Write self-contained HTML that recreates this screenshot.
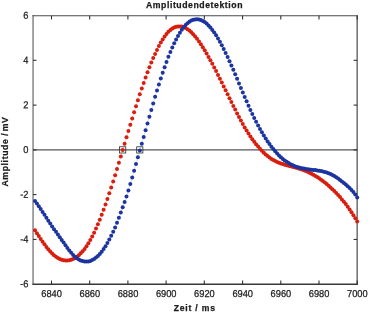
<!DOCTYPE html>
<html lang="de"><head><meta charset="utf-8"><title>Amplitudendetektion</title>
<style>html,body{margin:0;padding:0;background:#fff}body{width:370px;height:315px;overflow:hidden}svg{display:block}text{font-family:"Liberation Sans",Arial,Helvetica,sans-serif;fill:#1a1a1a}.tk{font-size:10px;stroke:#1a1a1a;stroke-width:0.25px}.lb{font-size:8.6px;font-weight:bold;letter-spacing:0.55px;stroke:#1a1a1a;stroke-width:0.25px}.tt{font-size:8.7px;letter-spacing:0.56px}.yl{font-size:8.7px;letter-spacing:0.6px}.xl{letter-spacing:0.8px}</style></head><body>
<svg width="370" height="315" viewBox="0 0 370 315">
<rect width="370" height="315" fill="#fff"/>
<g fill="none" stroke="#484848" stroke-width="1.2">
<line x1="33.05" y1="15.15" x2="33.05" y2="284.85" stroke="#666"/>
<line x1="357.15" y1="15.15" x2="357.15" y2="284.85" stroke="#4a4a4a"/>
<line x1="32.45" y1="15.75" x2="357.75" y2="15.75" stroke="#4a4a4a"/>
<line x1="32.45" y1="284.25" x2="357.75" y2="284.25" stroke="#383838" stroke-width="1.3"/>
<line x1="33.0" y1="149.86" x2="357.1" y2="149.86" stroke="#555"/>
</g>
<g stroke="#2a2a2a" stroke-width="1.05">
<line x1="51.5" y1="284.2" x2="51.5" y2="280.6"/>
<line x1="51.5" y1="15.8" x2="51.5" y2="19.4"/>
<line x1="89.7" y1="284.2" x2="89.7" y2="280.6"/>
<line x1="89.7" y1="15.8" x2="89.7" y2="19.4"/>
<line x1="127.9" y1="284.2" x2="127.9" y2="280.6"/>
<line x1="127.9" y1="15.8" x2="127.9" y2="19.4"/>
<line x1="166.1" y1="284.2" x2="166.1" y2="280.6"/>
<line x1="166.1" y1="15.8" x2="166.1" y2="19.4"/>
<line x1="204.3" y1="284.2" x2="204.3" y2="280.6"/>
<line x1="204.3" y1="15.8" x2="204.3" y2="19.4"/>
<line x1="242.6" y1="284.2" x2="242.6" y2="280.6"/>
<line x1="242.6" y1="15.8" x2="242.6" y2="19.4"/>
<line x1="280.8" y1="284.2" x2="280.8" y2="280.6"/>
<line x1="280.8" y1="15.8" x2="280.8" y2="19.4"/>
<line x1="319.0" y1="284.2" x2="319.0" y2="280.6"/>
<line x1="319.0" y1="15.8" x2="319.0" y2="19.4"/>
<line x1="357.2" y1="284.2" x2="357.2" y2="280.6"/>
<line x1="357.2" y1="15.8" x2="357.2" y2="19.4"/>
<line x1="33.0" y1="239.4" x2="36.5" y2="239.4"/>
<line x1="357.1" y1="239.4" x2="353.6" y2="239.4"/>
<line x1="33.0" y1="194.6" x2="36.5" y2="194.6"/>
<line x1="357.1" y1="194.6" x2="353.6" y2="194.6"/>
<line x1="33.0" y1="149.9" x2="36.5" y2="149.9"/>
<line x1="357.1" y1="149.9" x2="353.6" y2="149.9"/>
<line x1="33.0" y1="105.1" x2="36.5" y2="105.1"/>
<line x1="357.1" y1="105.1" x2="353.6" y2="105.1"/>
<line x1="33.0" y1="60.3" x2="36.5" y2="60.3"/>
<line x1="357.1" y1="60.3" x2="353.6" y2="60.3"/>
</g>
<g class="tk">
<text transform="translate(51.6,297.05) rotate(0.05) scale(0.93,1)" text-anchor="middle">6840</text>
<text transform="translate(89.8,297.05) rotate(0.05) scale(0.93,1)" text-anchor="middle">6860</text>
<text transform="translate(128.0,297.05) rotate(0.05) scale(0.93,1)" text-anchor="middle">6880</text>
<text transform="translate(166.2,297.05) rotate(0.05) scale(0.93,1)" text-anchor="middle">6900</text>
<text transform="translate(204.4,297.05) rotate(0.05) scale(0.93,1)" text-anchor="middle">6920</text>
<text transform="translate(242.7,297.05) rotate(0.05) scale(0.93,1)" text-anchor="middle">6940</text>
<text transform="translate(280.9,297.05) rotate(0.05) scale(0.93,1)" text-anchor="middle">6960</text>
<text transform="translate(319.1,297.05) rotate(0.05) scale(0.93,1)" text-anchor="middle">6980</text>
<text transform="translate(357.3,297.05) rotate(0.05) scale(0.93,1)" text-anchor="middle">7000</text>
<text transform="translate(28.4,287.2) rotate(0.05) scale(0.93,1)" text-anchor="end">-6</text>
<text transform="translate(28.4,242.5) rotate(0.05) scale(0.93,1)" text-anchor="end">-4</text>
<text transform="translate(28.4,197.7) rotate(0.05) scale(0.93,1)" text-anchor="end">-2</text>
<text transform="translate(28.4,153.0) rotate(0.05) scale(0.93,1)" text-anchor="end">0</text>
<text transform="translate(28.4,108.2) rotate(0.05) scale(0.93,1)" text-anchor="end">2</text>
<text transform="translate(28.4,63.4) rotate(0.05) scale(0.93,1)" text-anchor="end">4</text>
<text transform="translate(28.4,18.7) rotate(0.05) scale(0.93,1)" text-anchor="end">6</text>
</g>
<text class="lb tt" x="194.5" y="8.3" text-anchor="middle">Amplitudendetektion</text>
<text class="lb xl" x="194.7" y="311.3" text-anchor="middle">Zeit / ms</text>
<g transform="translate(8.2,186.5) rotate(-90)"><text class="lb yl" x="0" y="0">Amplitude</text><text class="lb yl" x="50.8" y="0">/</text><text class="lb yl" x="55.2" y="0">mV</text></g>
<polyline fill="none" stroke="#d81e0e" stroke-opacity="0.25" stroke-width="0.7" points="35.0,230.3 36.9,233.2 38.8,236.1 40.7,238.9 42.6,241.7 44.5,244.3 46.4,246.9 48.3,249.3 50.2,251.4 52.1,253.5 54.0,255.2 56.0,256.7 57.9,258.0 59.8,259.0 61.7,259.8 63.6,260.3 65.5,260.6 67.4,260.6 69.3,260.3 71.2,259.8 73.1,259.1 75.0,258.0 76.9,256.7 78.8,255.2 80.7,253.3 82.6,251.2 84.6,248.9 86.5,246.2 88.4,243.3 90.3,240.0 92.2,236.5 94.1,232.7 96.0,228.6 97.9,224.3 99.8,219.7 101.7,214.8 103.6,209.8 105.5,204.4 107.4,198.9 109.3,193.3 111.2,187.4 113.2,181.4 115.1,175.3 117.0,169.1 118.9,162.8 120.8,156.4 122.7,150.0 124.6,143.7 126.5,137.3 128.4,131.0 130.3,124.8 132.2,118.5 134.1,112.3 136.0,106.2 137.9,100.2 139.8,94.3 141.8,88.5 143.7,82.9 145.6,77.5 147.5,72.3 149.4,67.3 151.3,62.6 153.2,58.1 155.1,53.9 157.0,49.9 158.9,46.1 160.8,42.6 162.7,39.4 164.6,36.5 166.5,34.0 168.4,31.8 170.4,30.1 172.3,28.6 174.2,27.6 176.1,26.8 178.0,26.4 179.9,26.4 181.8,26.6 183.7,27.2 185.6,28.0 187.5,29.2 189.4,30.6 191.3,32.3 193.2,34.2 195.1,36.4 197.0,38.8 199.0,41.4 200.9,44.2 202.8,47.2 204.7,50.3 206.6,53.5 208.5,56.9 210.4,60.3 212.3,63.8 214.2,67.5 216.1,71.1 218.0,74.9 219.9,78.7 221.8,82.5 223.7,86.4 225.6,90.3 227.6,94.2 229.5,98.2 231.4,102.0 233.3,105.9 235.2,109.6 237.1,113.4 239.0,117.0 240.9,120.6 242.8,124.0 244.7,127.4 246.6,130.6 248.5,133.6 250.4,136.5 252.3,139.3 254.2,141.8 256.1,144.3 258.1,146.6 260.0,148.8 261.9,150.8 263.8,152.8 265.7,154.6 267.6,156.1 269.5,157.6 271.4,158.9 273.3,160.0 275.2,161.0 277.1,161.9 279.0,162.7 280.9,163.5 282.8,164.1 284.7,164.7 286.7,165.3 288.6,165.8 290.5,166.3 292.4,166.8 294.3,167.3 296.2,167.8 298.1,168.3 300.0,168.9 301.9,169.5 303.8,170.2 305.7,171.0 307.6,171.8 309.5,172.7 311.4,173.7 313.3,174.8 315.3,175.9 317.2,177.1 319.1,178.3 321.0,179.7 322.9,181.1 324.8,182.6 326.7,184.1 328.6,185.8 330.5,187.5 332.4,189.2 334.3,191.1 336.2,193.0 338.1,195.0 340.0,197.1 341.9,199.4 343.9,201.7 345.8,204.1 347.7,206.7 349.6,209.4 351.5,212.2 353.4,215.2 355.3,218.3 357.2,221.5"/>
<g fill="#d81e0e">
<circle cx="35.0" cy="230.3" r="2"/><circle cx="36.9" cy="233.2" r="2"/><circle cx="38.8" cy="236.1" r="2"/><circle cx="40.7" cy="238.9" r="2"/><circle cx="42.6" cy="241.7" r="2"/><circle cx="44.5" cy="244.3" r="2"/><circle cx="46.4" cy="246.9" r="2"/><circle cx="48.3" cy="249.3" r="2"/><circle cx="50.2" cy="251.4" r="2"/><circle cx="52.1" cy="253.5" r="2"/><circle cx="54.0" cy="255.2" r="2"/><circle cx="56.0" cy="256.7" r="2"/><circle cx="57.9" cy="258.0" r="2"/><circle cx="59.8" cy="259.0" r="2"/><circle cx="61.7" cy="259.8" r="2"/><circle cx="63.6" cy="260.3" r="2"/><circle cx="65.5" cy="260.6" r="2"/><circle cx="67.4" cy="260.6" r="2"/><circle cx="69.3" cy="260.3" r="2"/><circle cx="71.2" cy="259.8" r="2"/><circle cx="73.1" cy="259.1" r="2"/><circle cx="75.0" cy="258.0" r="2"/><circle cx="76.9" cy="256.7" r="2"/><circle cx="78.8" cy="255.2" r="2"/><circle cx="80.7" cy="253.3" r="2"/><circle cx="82.6" cy="251.2" r="2"/><circle cx="84.6" cy="248.9" r="2"/><circle cx="86.5" cy="246.2" r="2"/><circle cx="88.4" cy="243.3" r="2"/><circle cx="90.3" cy="240.0" r="2"/><circle cx="92.2" cy="236.5" r="2"/><circle cx="94.1" cy="232.7" r="2"/><circle cx="96.0" cy="228.6" r="2"/><circle cx="97.9" cy="224.3" r="2"/><circle cx="99.8" cy="219.7" r="2"/><circle cx="101.7" cy="214.8" r="2"/><circle cx="103.6" cy="209.8" r="2"/><circle cx="105.5" cy="204.4" r="2"/><circle cx="107.4" cy="198.9" r="2"/><circle cx="109.3" cy="193.3" r="2"/><circle cx="111.2" cy="187.4" r="2"/><circle cx="113.2" cy="181.4" r="2"/><circle cx="115.1" cy="175.3" r="2"/><circle cx="117.0" cy="169.1" r="2"/><circle cx="118.9" cy="162.8" r="2"/><circle cx="120.8" cy="156.4" r="2"/><circle cx="122.7" cy="150.0" r="2"/><circle cx="124.6" cy="143.7" r="2"/><circle cx="126.5" cy="137.3" r="2"/><circle cx="128.4" cy="131.0" r="2"/><circle cx="130.3" cy="124.8" r="2"/><circle cx="132.2" cy="118.5" r="2"/><circle cx="134.1" cy="112.3" r="2"/><circle cx="136.0" cy="106.2" r="2"/><circle cx="137.9" cy="100.2" r="2"/><circle cx="139.8" cy="94.3" r="2"/><circle cx="141.8" cy="88.5" r="2"/><circle cx="143.7" cy="82.9" r="2"/><circle cx="145.6" cy="77.5" r="2"/><circle cx="147.5" cy="72.3" r="2"/><circle cx="149.4" cy="67.3" r="2"/><circle cx="151.3" cy="62.6" r="2"/><circle cx="153.2" cy="58.1" r="2"/><circle cx="155.1" cy="53.9" r="2"/><circle cx="157.0" cy="49.9" r="2"/><circle cx="158.9" cy="46.1" r="2"/><circle cx="160.8" cy="42.6" r="2"/><circle cx="162.7" cy="39.4" r="2"/><circle cx="164.6" cy="36.5" r="2"/><circle cx="166.5" cy="34.0" r="2"/><circle cx="168.4" cy="31.8" r="2"/><circle cx="170.4" cy="30.1" r="2"/><circle cx="172.3" cy="28.6" r="2"/><circle cx="174.2" cy="27.6" r="2"/><circle cx="176.1" cy="26.8" r="2"/><circle cx="178.0" cy="26.4" r="2"/><circle cx="179.9" cy="26.4" r="2"/><circle cx="181.8" cy="26.6" r="2"/><circle cx="183.7" cy="27.2" r="2"/><circle cx="185.6" cy="28.0" r="2"/><circle cx="187.5" cy="29.2" r="2"/><circle cx="189.4" cy="30.6" r="2"/><circle cx="191.3" cy="32.3" r="2"/><circle cx="193.2" cy="34.2" r="2"/><circle cx="195.1" cy="36.4" r="2"/><circle cx="197.0" cy="38.8" r="2"/><circle cx="199.0" cy="41.4" r="2"/><circle cx="200.9" cy="44.2" r="2"/><circle cx="202.8" cy="47.2" r="2"/><circle cx="204.7" cy="50.3" r="2"/><circle cx="206.6" cy="53.5" r="2"/><circle cx="208.5" cy="56.9" r="2"/><circle cx="210.4" cy="60.3" r="2"/><circle cx="212.3" cy="63.8" r="2"/><circle cx="214.2" cy="67.5" r="2"/><circle cx="216.1" cy="71.1" r="2"/><circle cx="218.0" cy="74.9" r="2"/><circle cx="219.9" cy="78.7" r="2"/><circle cx="221.8" cy="82.5" r="2"/><circle cx="223.7" cy="86.4" r="2"/><circle cx="225.6" cy="90.3" r="2"/><circle cx="227.6" cy="94.2" r="2"/><circle cx="229.5" cy="98.2" r="2"/><circle cx="231.4" cy="102.0" r="2"/><circle cx="233.3" cy="105.9" r="2"/><circle cx="235.2" cy="109.6" r="2"/><circle cx="237.1" cy="113.4" r="2"/><circle cx="239.0" cy="117.0" r="2"/><circle cx="240.9" cy="120.6" r="2"/><circle cx="242.8" cy="124.0" r="2"/><circle cx="244.7" cy="127.4" r="2"/><circle cx="246.6" cy="130.6" r="2"/><circle cx="248.5" cy="133.6" r="2"/><circle cx="250.4" cy="136.5" r="2"/><circle cx="252.3" cy="139.3" r="2"/><circle cx="254.2" cy="141.8" r="2"/><circle cx="256.1" cy="144.3" r="2"/><circle cx="258.1" cy="146.6" r="2"/><circle cx="260.0" cy="148.8" r="2"/><circle cx="261.9" cy="150.8" r="2"/><circle cx="263.8" cy="152.8" r="2"/><circle cx="265.7" cy="154.6" r="2"/><circle cx="267.6" cy="156.1" r="2"/><circle cx="269.5" cy="157.6" r="2"/><circle cx="271.4" cy="158.9" r="2"/><circle cx="273.3" cy="160.0" r="2"/><circle cx="275.2" cy="161.0" r="2"/><circle cx="277.1" cy="161.9" r="2"/><circle cx="279.0" cy="162.7" r="2"/><circle cx="280.9" cy="163.5" r="2"/><circle cx="282.8" cy="164.1" r="2"/><circle cx="284.7" cy="164.7" r="2"/><circle cx="286.7" cy="165.3" r="2"/><circle cx="288.6" cy="165.8" r="2"/><circle cx="290.5" cy="166.3" r="2"/><circle cx="292.4" cy="166.8" r="2"/><circle cx="294.3" cy="167.3" r="2"/><circle cx="296.2" cy="167.8" r="2"/><circle cx="298.1" cy="168.3" r="2"/><circle cx="300.0" cy="168.9" r="2"/><circle cx="301.9" cy="169.5" r="2"/><circle cx="303.8" cy="170.2" r="2"/><circle cx="305.7" cy="171.0" r="2"/><circle cx="307.6" cy="171.8" r="2"/><circle cx="309.5" cy="172.7" r="2"/><circle cx="311.4" cy="173.7" r="2"/><circle cx="313.3" cy="174.8" r="2"/><circle cx="315.3" cy="175.9" r="2"/><circle cx="317.2" cy="177.1" r="2"/><circle cx="319.1" cy="178.3" r="2"/><circle cx="321.0" cy="179.7" r="2"/><circle cx="322.9" cy="181.1" r="2"/><circle cx="324.8" cy="182.6" r="2"/><circle cx="326.7" cy="184.1" r="2"/><circle cx="328.6" cy="185.8" r="2"/><circle cx="330.5" cy="187.5" r="2"/><circle cx="332.4" cy="189.2" r="2"/><circle cx="334.3" cy="191.1" r="2"/><circle cx="336.2" cy="193.0" r="2"/><circle cx="338.1" cy="195.0" r="2"/><circle cx="340.0" cy="197.1" r="2"/><circle cx="341.9" cy="199.4" r="2"/><circle cx="343.9" cy="201.7" r="2"/><circle cx="345.8" cy="204.1" r="2"/><circle cx="347.7" cy="206.7" r="2"/><circle cx="349.6" cy="209.4" r="2"/><circle cx="351.5" cy="212.2" r="2"/><circle cx="353.4" cy="215.2" r="2"/><circle cx="355.3" cy="218.3" r="2"/><circle cx="357.2" cy="221.5" r="2"/>
</g>
<polyline fill="none" stroke="#1c34a0" stroke-opacity="0.25" stroke-width="0.7" points="35.0,201.0 36.9,203.5 38.8,206.2 40.7,209.0 42.6,211.9 44.5,214.8 46.4,217.8 48.3,220.7 50.2,223.6 52.1,226.4 54.0,229.2 56.0,231.8 57.9,234.5 59.8,237.2 61.7,239.9 63.6,242.6 65.5,245.2 67.4,247.9 69.3,250.4 71.2,252.7 73.1,254.9 75.0,256.7 76.9,258.3 78.8,259.5 80.7,260.4 82.6,261.1 84.6,261.5 86.5,261.6 88.4,261.4 90.3,260.9 92.2,260.1 94.1,259.0 96.0,257.6 97.9,255.9 99.8,254.0 101.7,251.7 103.6,249.1 105.5,246.3 107.4,243.1 109.3,239.6 111.2,235.8 113.2,231.8 115.1,227.4 117.0,222.7 118.9,217.7 120.8,212.6 122.7,207.3 124.6,201.9 126.5,196.4 128.4,190.4 130.3,184.0 132.2,177.4 134.1,170.8 136.0,164.1 137.9,157.3 139.8,150.5 141.8,143.8 143.7,137.0 145.6,130.2 147.5,123.4 149.4,116.7 151.3,110.1 153.2,103.4 155.1,96.8 157.0,90.5 158.9,84.4 160.8,78.5 162.7,72.8 164.6,67.2 166.5,61.9 168.4,56.8 170.4,52.0 172.3,47.5 174.2,43.3 176.1,39.5 178.0,35.9 179.9,32.7 181.8,29.8 183.7,27.3 185.6,25.1 187.5,23.2 189.4,21.8 191.3,20.6 193.2,19.8 195.1,19.4 197.0,19.3 199.0,19.5 200.9,20.0 202.8,20.9 204.7,22.1 206.6,23.6 208.5,25.4 210.4,27.5 212.3,29.9 214.2,32.5 216.1,35.3 218.0,38.4 219.9,41.8 221.8,45.3 223.7,49.0 225.6,52.9 227.6,57.0 229.5,61.2 231.4,65.5 233.3,69.8 235.2,74.3 237.1,78.8 239.0,83.4 240.9,87.9 242.8,92.4 244.7,96.9 246.6,101.3 248.5,105.7 250.4,109.9 252.3,114.0 254.2,118.0 256.1,121.8 258.1,125.5 260.0,129.0 261.9,132.3 263.8,135.5 265.7,138.5 267.6,141.4 269.5,144.1 271.4,146.7 273.3,149.1 275.2,151.3 277.1,153.4 279.0,155.4 280.9,157.2 282.8,158.9 284.7,160.4 286.7,161.8 288.6,163.0 290.5,164.2 292.4,165.1 294.3,166.0 296.2,166.7 298.1,167.3 300.0,167.8 301.9,168.3 303.8,168.6 305.7,168.9 307.6,169.2 309.5,169.4 311.4,169.7 313.3,169.9 315.3,170.1 317.2,170.4 319.1,170.7 321.0,171.1 322.9,171.5 324.8,172.0 326.7,172.6 328.6,173.3 330.5,174.1 332.4,175.0 334.3,176.1 336.2,177.3 338.1,178.5 340.0,179.9 341.9,181.4 343.9,183.0 345.8,184.6 347.7,186.3 349.6,188.1 351.5,189.9 353.4,191.9 355.3,194.4 357.2,197.6"/>
<g fill="#1c34a0">
<circle cx="35.0" cy="201.0" r="2"/><circle cx="36.9" cy="203.5" r="2"/><circle cx="38.8" cy="206.2" r="2"/><circle cx="40.7" cy="209.0" r="2"/><circle cx="42.6" cy="211.9" r="2"/><circle cx="44.5" cy="214.8" r="2"/><circle cx="46.4" cy="217.8" r="2"/><circle cx="48.3" cy="220.7" r="2"/><circle cx="50.2" cy="223.6" r="2"/><circle cx="52.1" cy="226.4" r="2"/><circle cx="54.0" cy="229.2" r="2"/><circle cx="56.0" cy="231.8" r="2"/><circle cx="57.9" cy="234.5" r="2"/><circle cx="59.8" cy="237.2" r="2"/><circle cx="61.7" cy="239.9" r="2"/><circle cx="63.6" cy="242.6" r="2"/><circle cx="65.5" cy="245.2" r="2"/><circle cx="67.4" cy="247.9" r="2"/><circle cx="69.3" cy="250.4" r="2"/><circle cx="71.2" cy="252.7" r="2"/><circle cx="73.1" cy="254.9" r="2"/><circle cx="75.0" cy="256.7" r="2"/><circle cx="76.9" cy="258.3" r="2"/><circle cx="78.8" cy="259.5" r="2"/><circle cx="80.7" cy="260.4" r="2"/><circle cx="82.6" cy="261.1" r="2"/><circle cx="84.6" cy="261.5" r="2"/><circle cx="86.5" cy="261.6" r="2"/><circle cx="88.4" cy="261.4" r="2"/><circle cx="90.3" cy="260.9" r="2"/><circle cx="92.2" cy="260.1" r="2"/><circle cx="94.1" cy="259.0" r="2"/><circle cx="96.0" cy="257.6" r="2"/><circle cx="97.9" cy="255.9" r="2"/><circle cx="99.8" cy="254.0" r="2"/><circle cx="101.7" cy="251.7" r="2"/><circle cx="103.6" cy="249.1" r="2"/><circle cx="105.5" cy="246.3" r="2"/><circle cx="107.4" cy="243.1" r="2"/><circle cx="109.3" cy="239.6" r="2"/><circle cx="111.2" cy="235.8" r="2"/><circle cx="113.2" cy="231.8" r="2"/><circle cx="115.1" cy="227.4" r="2"/><circle cx="117.0" cy="222.7" r="2"/><circle cx="118.9" cy="217.7" r="2"/><circle cx="120.8" cy="212.6" r="2"/><circle cx="122.7" cy="207.3" r="2"/><circle cx="124.6" cy="201.9" r="2"/><circle cx="126.5" cy="196.4" r="2"/><circle cx="128.4" cy="190.4" r="2"/><circle cx="130.3" cy="184.0" r="2"/><circle cx="132.2" cy="177.4" r="2"/><circle cx="134.1" cy="170.8" r="2"/><circle cx="136.0" cy="164.1" r="2"/><circle cx="137.9" cy="157.3" r="2"/><circle cx="139.8" cy="150.5" r="2"/><circle cx="141.8" cy="143.8" r="2"/><circle cx="143.7" cy="137.0" r="2"/><circle cx="145.6" cy="130.2" r="2"/><circle cx="147.5" cy="123.4" r="2"/><circle cx="149.4" cy="116.7" r="2"/><circle cx="151.3" cy="110.1" r="2"/><circle cx="153.2" cy="103.4" r="2"/><circle cx="155.1" cy="96.8" r="2"/><circle cx="157.0" cy="90.5" r="2"/><circle cx="158.9" cy="84.4" r="2"/><circle cx="160.8" cy="78.5" r="2"/><circle cx="162.7" cy="72.8" r="2"/><circle cx="164.6" cy="67.2" r="2"/><circle cx="166.5" cy="61.9" r="2"/><circle cx="168.4" cy="56.8" r="2"/><circle cx="170.4" cy="52.0" r="2"/><circle cx="172.3" cy="47.5" r="2"/><circle cx="174.2" cy="43.3" r="2"/><circle cx="176.1" cy="39.5" r="2"/><circle cx="178.0" cy="35.9" r="2"/><circle cx="179.9" cy="32.7" r="2"/><circle cx="181.8" cy="29.8" r="2"/><circle cx="183.7" cy="27.3" r="2"/><circle cx="185.6" cy="25.1" r="2"/><circle cx="187.5" cy="23.2" r="2"/><circle cx="189.4" cy="21.8" r="2"/><circle cx="191.3" cy="20.6" r="2"/><circle cx="193.2" cy="19.8" r="2"/><circle cx="195.1" cy="19.4" r="2"/><circle cx="197.0" cy="19.3" r="2"/><circle cx="199.0" cy="19.5" r="2"/><circle cx="200.9" cy="20.0" r="2"/><circle cx="202.8" cy="20.9" r="2"/><circle cx="204.7" cy="22.1" r="2"/><circle cx="206.6" cy="23.6" r="2"/><circle cx="208.5" cy="25.4" r="2"/><circle cx="210.4" cy="27.5" r="2"/><circle cx="212.3" cy="29.9" r="2"/><circle cx="214.2" cy="32.5" r="2"/><circle cx="216.1" cy="35.3" r="2"/><circle cx="218.0" cy="38.4" r="2"/><circle cx="219.9" cy="41.8" r="2"/><circle cx="221.8" cy="45.3" r="2"/><circle cx="223.7" cy="49.0" r="2"/><circle cx="225.6" cy="52.9" r="2"/><circle cx="227.6" cy="57.0" r="2"/><circle cx="229.5" cy="61.2" r="2"/><circle cx="231.4" cy="65.5" r="2"/><circle cx="233.3" cy="69.8" r="2"/><circle cx="235.2" cy="74.3" r="2"/><circle cx="237.1" cy="78.8" r="2"/><circle cx="239.0" cy="83.4" r="2"/><circle cx="240.9" cy="87.9" r="2"/><circle cx="242.8" cy="92.4" r="2"/><circle cx="244.7" cy="96.9" r="2"/><circle cx="246.6" cy="101.3" r="2"/><circle cx="248.5" cy="105.7" r="2"/><circle cx="250.4" cy="109.9" r="2"/><circle cx="252.3" cy="114.0" r="2"/><circle cx="254.2" cy="118.0" r="2"/><circle cx="256.1" cy="121.8" r="2"/><circle cx="258.1" cy="125.5" r="2"/><circle cx="260.0" cy="129.0" r="2"/><circle cx="261.9" cy="132.3" r="2"/><circle cx="263.8" cy="135.5" r="2"/><circle cx="265.7" cy="138.5" r="2"/><circle cx="267.6" cy="141.4" r="2"/><circle cx="269.5" cy="144.1" r="2"/><circle cx="271.4" cy="146.7" r="2"/><circle cx="273.3" cy="149.1" r="2"/><circle cx="275.2" cy="151.3" r="2"/><circle cx="277.1" cy="153.4" r="2"/><circle cx="279.0" cy="155.4" r="2"/><circle cx="280.9" cy="157.2" r="2"/><circle cx="282.8" cy="158.9" r="2"/><circle cx="284.7" cy="160.4" r="2"/><circle cx="286.7" cy="161.8" r="2"/><circle cx="288.6" cy="163.0" r="2"/><circle cx="290.5" cy="164.2" r="2"/><circle cx="292.4" cy="165.1" r="2"/><circle cx="294.3" cy="166.0" r="2"/><circle cx="296.2" cy="166.7" r="2"/><circle cx="298.1" cy="167.3" r="2"/><circle cx="300.0" cy="167.8" r="2"/><circle cx="301.9" cy="168.3" r="2"/><circle cx="303.8" cy="168.6" r="2"/><circle cx="305.7" cy="168.9" r="2"/><circle cx="307.6" cy="169.2" r="2"/><circle cx="309.5" cy="169.4" r="2"/><circle cx="311.4" cy="169.7" r="2"/><circle cx="313.3" cy="169.9" r="2"/><circle cx="315.3" cy="170.1" r="2"/><circle cx="317.2" cy="170.4" r="2"/><circle cx="319.1" cy="170.7" r="2"/><circle cx="321.0" cy="171.1" r="2"/><circle cx="322.9" cy="171.5" r="2"/><circle cx="324.8" cy="172.0" r="2"/><circle cx="326.7" cy="172.6" r="2"/><circle cx="328.6" cy="173.3" r="2"/><circle cx="330.5" cy="174.1" r="2"/><circle cx="332.4" cy="175.0" r="2"/><circle cx="334.3" cy="176.1" r="2"/><circle cx="336.2" cy="177.3" r="2"/><circle cx="338.1" cy="178.5" r="2"/><circle cx="340.0" cy="179.9" r="2"/><circle cx="341.9" cy="181.4" r="2"/><circle cx="343.9" cy="183.0" r="2"/><circle cx="345.8" cy="184.6" r="2"/><circle cx="347.7" cy="186.3" r="2"/><circle cx="349.6" cy="188.1" r="2"/><circle cx="351.5" cy="189.9" r="2"/><circle cx="353.4" cy="191.9" r="2"/><circle cx="355.3" cy="194.4" r="2"/><circle cx="357.2" cy="197.6" r="2"/>
</g>
<rect x="119.6" y="146.8" width="6.2" height="6.2" fill="none" stroke="#222" stroke-width="0.75"/>
<rect x="136.7" y="146.8" width="6.2" height="6.2" fill="none" stroke="#222" stroke-width="0.75"/>
</svg></body></html>
